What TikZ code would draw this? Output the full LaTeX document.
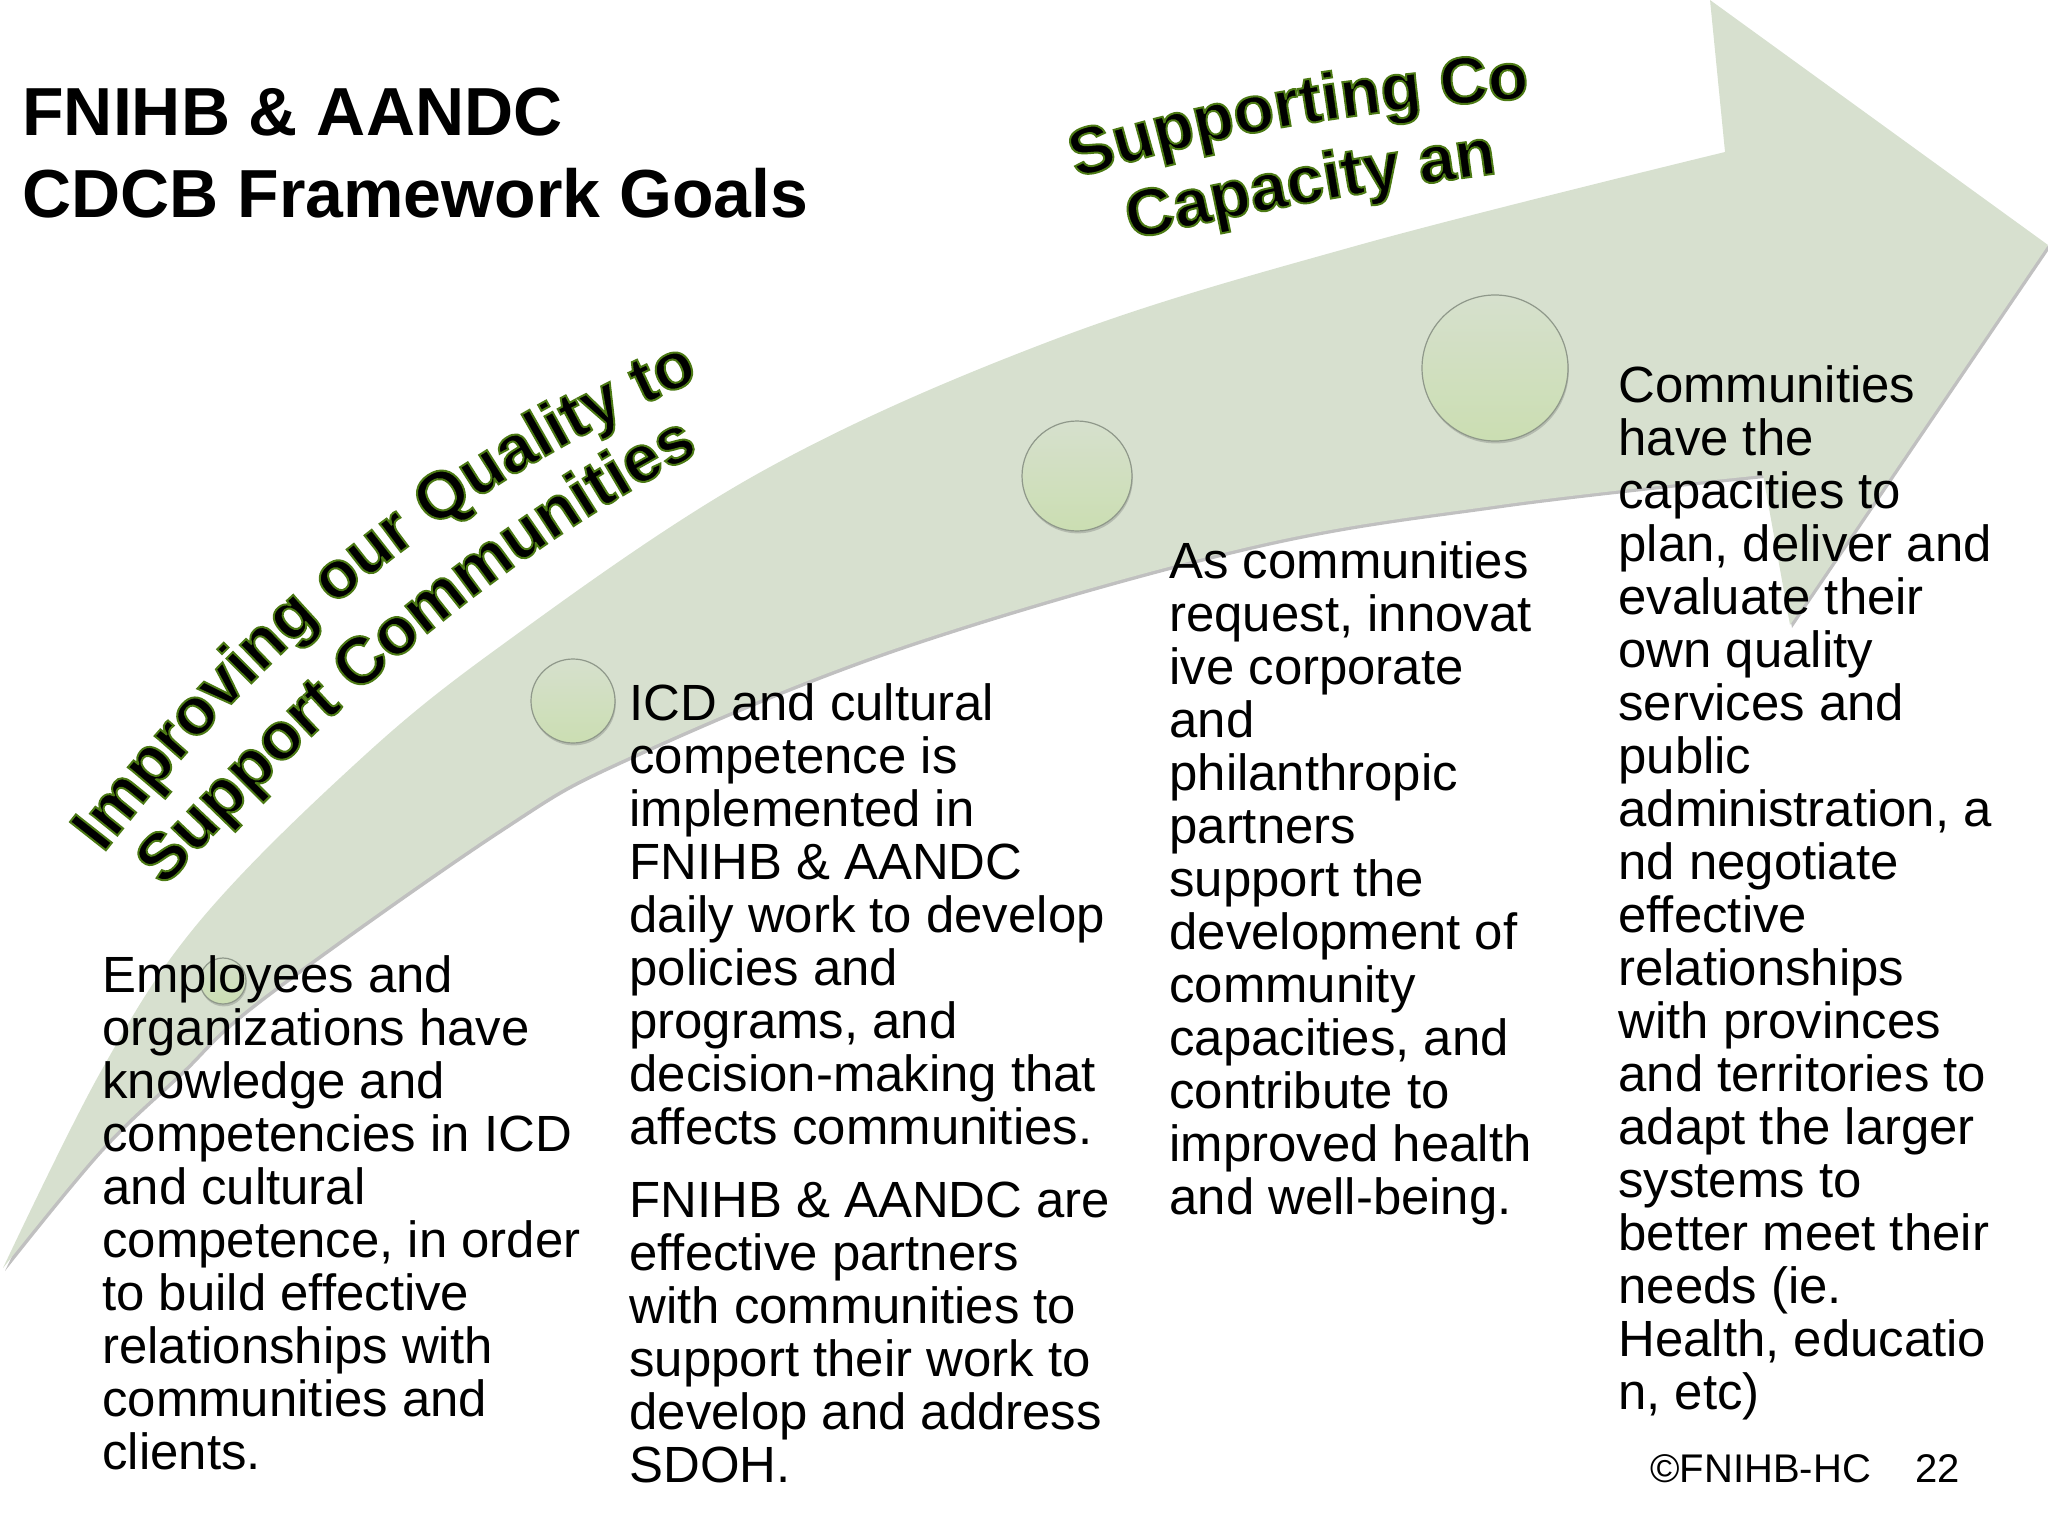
\documentclass[tikz,border=0pt]{standalone}
\usepackage{fontspec}
\setmainfont{Liberation Sans}
\newfontfamily\wa[FakeBold=3]{Liberation Sans Bold}
\usetikzlibrary{decorations.text,shadows}
\definecolor{arrowfill}{HTML}{D7E0CF}
\definecolor{dotedge}{HTML}{8F988A}
\definecolor{dottop}{HTML}{D6E0CD}
\definecolor{dotbot}{HTML}{CBDEB2}
\tikzset{
 body/.style={inner sep=0pt,anchor=north west,align=left,text=black,font=\fontsize{25.45}{26.5}\selectfont},
 titletext/.style={inner sep=0pt,anchor=north west,align=left,text=black,font=\fontsize{34}{41}\selectfont\bfseries},
 foot/.style={inner sep=0pt,anchor=base west,text=black,font=\fontsize{20}{24}\selectfont},
 dot/.style={circle,draw=dotedge,line width=0.6pt,top color=dottop,bottom color=dotbot,inner sep=0pt,minimum size=#1,
   drop shadow={shadow xshift=0.4pt,shadow yshift=-1.2pt,opacity=.3,fill=black!60}},
 wordart/.style={decorate,decoration={text along path,text align=center,
   text={|\fontsize{33.2}{36}\wa\special{pdf:code 0.30 0.48 0.08 RG}|#1}}},
}
\begin{document}
\begin{tikzpicture}[x=0.5pt,y=-0.5pt]
\useasboundingbox (0,0) rectangle (2048,1536);
\def\arrowpath{plot[smooth,tension=.6] coordinates {(3,1268) (100,1073) (194,928) (340,778) (491,653) (759,473) (1053,340) (1359,245) (1725,152)}
 -- (1710,0) -- (2048,245) -- (1790,625) -- (1763,475)
 -- plot[smooth,tension=.6] coordinates {(1763,475) (1500,505) (1244,548) (900,647) (629,757) (499,830) (263,997) (180,1073) (100,1150) (3,1268)} -- cycle}
\fill[black!45,opacity=.55,shift={(2,3)}] \arrowpath;
\fill[arrowfill] \arrowpath;
\node[dot=46*0.5pt] (d1) at (223,981) {};
\node[dot=84*0.5pt] (d2) at (573,701) {};
\node[dot=110*0.5pt] (d3) at (1077,476) {};
\node[dot=146*0.5pt] (d4) at (1495,368) {};
\node[titletext] (title) at (22,88) {FNIHB \& AANDC\\CDCB Framework Goals};
\node[body] (c1) at (102,955) {Employees and\\organizations have\\knowledge and\\competencies in ICD\\and cultural\\competence, in order\\to build effective\\relationships with\\communities and\\clients.};
\node[body] (c2a) at (629,683) {ICD and cultural\\competence is\\implemented in\\FNIHB \& AANDC\\daily work to develop\\policies and\\programs, and\\decision-making that\\affects communities.};
\node[body] (c2b) at (629,1182) {FNIHB \& AANDC are\\effective partners\\with communities to\\support their work to\\develop and address\\SDOH.};
\node[body] (c3) at (1169,541) {As communities\\request, innovat\\ive corporate\\and\\philanthropic\\partners\\support the\\development of\\community\\capacities, and\\contribute to\\improved health\\and well-being.};
\node[body] (c4) at (1618,365) {Communities\\have the\\capacities to\\plan, deliver and\\evaluate their\\own quality\\services and\\public\\administration, a\\nd negotiate\\effective\\relationships\\with provinces\\and territories to\\adapt the larger\\systems to\\better meet their\\needs (ie.\\Health, educatio\\n, etc)};
\node[foot] (fa) at (1650,1482) {©FNIHB-HC};
\node[foot] (fb) at (1915,1482) {22};
\coordinate (w1a) at (92,868); \coordinate (w1d) at (716,372);
\path[wordart={Improving our Quality to}] (w1a) .. controls (230,690) and (400,505) .. (w1d);
\coordinate (w2a) at (160,892); \coordinate (w2d) at (705,450);
\path[wordart={Support Communities}] (w2a) .. controls (300,740) and (470,570) .. (w2d);
\coordinate (w3a) at (1066,182); \coordinate (w3d) at (1541,97);
\path[wordart={Supporting Co}] (w3a) .. controls (1226,127) and (1386,109) .. (w3d);
\coordinate (w4a) at (1122,242); \coordinate (w4d) at (1507,172);
\path[wordart={Capacity an}] (w4a) .. controls (1252,210) and (1372,190) .. (w4d);
\end{tikzpicture}
\end{document}
